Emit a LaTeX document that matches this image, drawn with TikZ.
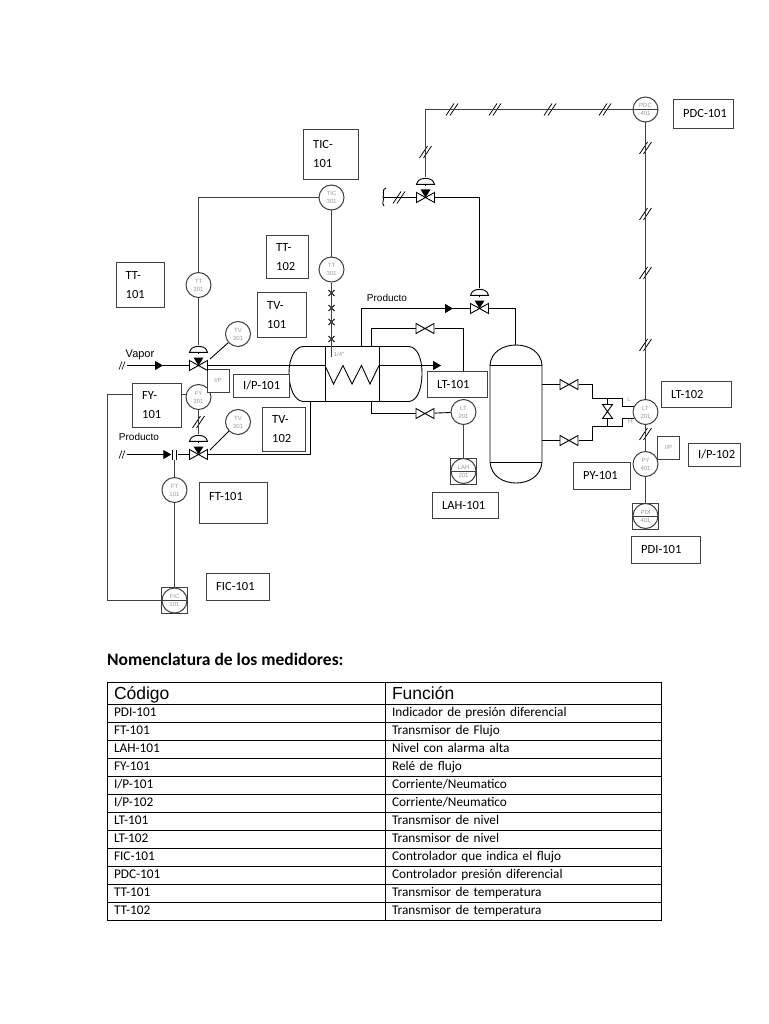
\documentclass[tikz,border=0pt]{standalone}
\usepackage{fontspec}
\setmainfont{Carlito}
\newfontfamily\arialfont{Liberation Sans}
\usetikzlibrary{arrows.meta}
\definecolor{pipegray}{gray}{0.25}
\definecolor{labelgray}{gray}{0.6}
\tikzstyle{instrument} = [
	circle,
	draw = pipegray,
	fill = white,
	line width = 1pt,
	minimum size = 25pt,
	inner sep = 0pt,
	align = center,
	text = labelgray,
	font = \arialfont\fontsize{6}{8}\selectfont,
]
\tikzstyle{panelbox} = [
	rectangle,
	draw = pipegray,
	line width = 1pt,
	minimum size = 26pt,
	inner sep = 0pt,
]
\tikzstyle{splitline} = [
	path picture = {\draw (path picture bounding box.west) -- (path picture bounding box.east);},
]
\tikzstyle{converter} = [
	rectangle,
	draw = pipegray,
	fill = white,
	minimum width = 22pt,
	minimum height = 23pt,
	inner sep = 0pt,
	text = labelgray,
	font = \arialfont\fontsize{6}{7}\selectfont,
]
\tikzstyle{tag} = [
	rectangle,
	draw = pipegray,
	fill = white,
	anchor = north west,
	inner xsep = 10pt,
	inner ysep = 0pt,
	align = left,
	font = \fontsize{12.5}{19}\selectfont,
]
\tikzstyle{valve} = [
	rectangle,
	minimum width = 18.6pt,
	minimum height = 12pt,
	inner sep = 0pt,
	path picture = {\draw[line width = 0.9pt, shift = {(path picture bounding box.center)}] (-9,-5) -- (9,5) -- (9,-5) -- (-9,5) -- cycle;},
]
\tikzstyle{vvalve} = [
	rectangle,
	minimum width = 12pt,
	minimum height = 15pt,
	inner sep = 0pt,
	path picture = {\draw[line width = 0.9pt, shift = {(path picture bounding box.center)}] (-5,-7) -- (5,7) -- (-5,7) -- (5,-7) -- cycle;},
]
\tikzstyle{ctrlvalve} = [
	rectangle,
	minimum width = 18.6pt,
	minimum height = 22pt,
	inner sep = 0pt,
	path picture = {
		\draw[line width = 0.9pt, shift = {(path picture bounding box.center)}] (-9,-5) -- (9,5) -- (9,-5) -- (-9,5) -- cycle;
		\fill[shift = {(path picture bounding box.center)}] (-5,-8) -- (5,-8) -- (0,0) -- cycle;
	},
]
\tikzstyle{actuator} = [
	rectangle,
	minimum width = 20pt,
	minimum height = 8pt,
	inner sep = 0pt,
	path picture = {\draw[line width = 0.9pt, shift = {(path picture bounding box.center)}] (-9,3.4) -- (9,3.4) -- (8,1) .. controls (6,-3.8) and (-6,-3.8) .. (-8,1) -- cycle;},
]
\tikzstyle{dslash} = [
	rectangle,
	minimum size = 15pt,
	inner sep = 0pt,
	path picture = {\draw[line width = 0.8pt, shift = {(path picture bounding box.center)}] (-6,6) -- (2,-6) (-2,6) -- (6,-6);},
]
\tikzstyle{endslash} = [
	rectangle,
	minimum size = 9pt,
	inner sep = 0pt,
	path picture = {\draw[line width = 0.6pt, shift = {(path picture bounding box.center)}] (-3,4) -- (0,-4) (0,4) -- (3,-4);},
]
\tikzstyle{xmark} = [
	rectangle,
	minimum size = 8pt,
	inner sep = 0pt,
	path picture = {\draw[line width = 0.9pt, shift = {(path picture bounding box.center)}] (-3,-3) -- (3,3) (-3,3) -- (3,-3);},
]
\tikzstyle{orifice} = [
	rectangle,
	minimum width = 6pt,
	minimum height = 10pt,
	inner sep = 0pt,
	path picture = {\draw[line width = 0.9pt, shift = {(path picture bounding box.center)}] (-1.8,-5) -- (-1.8,5) (1.8,-5) -- (1.8,5);},
]
\tikzstyle{pipe} = [draw = black, line width = 0.9pt]
\tikzstyle{sigline} = [draw = pipegray, line width = 1pt]
\tikzstyle{flow} = [pipe, -{Triangle[length = 8pt, width = 9pt]}]
\tikzstyle{note} = [
	inner sep = 0pt,
	font = \arialfont\fontsize{10}{12}\selectfont,
]
\tikzstyle{hintmark} = [
	inner sep = 0pt,
	text = labelgray,
	font = \arialfont\fontsize{6}{7}\selectfont,
]
\tikzstyle{hcell} = [
	rectangle,
	draw = black,
	minimum height = 22pt,
	inner xsep = 7pt,
	inner ysep = 0pt,
	text height = 12pt,
	text depth = 0pt,
	align = left,
	font = \arialfont\fontsize{17.5}{19}\selectfont,
]
\tikzstyle{cell} = [
	rectangle,
	draw = black,
	minimum height = 18pt,
	inner xsep = 7pt,
	inner ysep = 0pt,
	text height = 9pt,
	text depth = 3pt,
	align = left,
	font = \fontsize{13.3}{15}\selectfont,
]
\tikzstyle{codecol} = [text width = 264pt]
\tikzstyle{funccol} = [text width = 262pt]

\begin{document}
\begin{tikzpicture}[x = 1pt, y = -1pt]
	\useasboundingbox (0,0) rectangle (768,1024);

	% instruments
	\node[instrument] (tic) at (331.5,197.5) {TIC\\301};
	\node[instrument, below of = tic, node distance = 72pt] (tt102) {TT\\301};
	\node[instrument] (tt101) at (198.5,285) {TT\\301};
	\node[instrument] (tv1) at (238,334) {TV\\301};
	\node[instrument] (tv2) at (238,422) {TV\\301};
	\node[instrument] (fy) at (198.5,397) {FY\\301};
	\node[instrument] (ft) at (174.5,490) {FT\\101};
	\node[panelbox] (ficbox) at (174.5,600.5) {};
	\node[instrument, splitline] (fic) at (174.5,600.5) {FIC\\101};
	\node[instrument] (lt101) at (463.5,412) {LT\\201};
	\node[panelbox, below of = lt101, node distance = 59pt] (lahbox) {};
	\node[instrument, splitline, below of = lt101, node distance = 59pt] (lah) {LAH\\201};
	\node[instrument, splitline] (pdc) at (645.5,109.5) {PDC\\401};
	\node[instrument] (lt102) at (645.5,412) {LT\\201};
	\node[instrument, below of = lt102, node distance = 52pt] (py) {PY\\401};
	\node[panelbox, below of = py, node distance = 52pt] (pdibox) {};
	\node[instrument, splitline, below of = py, node distance = 52pt] (pdi) {PDI\\401};
	\node[converter] (ipa) at (218,380.5) {I/P};
	\node[converter] (ipb) at (668.5,447.5) {I/P};

	% valves
	\node[ctrlvalve] (vapvalve) at (198.5,365.5) {};
	\node[actuator, above of = vapvalve, node distance = 16.5pt] (vapact) {};
	\node[ctrlvalve] (feedvalve) at (198.5,454.5) {};
	\node[actuator, above of = feedvalve, node distance = 16.5pt] (feedact) {};
	\node[ctrlvalve] (prodvalve) at (479.5,308.5) {};
	\node[actuator, above of = prodvalve, node distance = 16.5pt] (prodact) {};
	\node[ctrlvalve] (topvalve) at (425.5,197.5) {};
	\node[actuator, above of = topvalve, node distance = 16.5pt] (topact) {};
	\node[valve] (upvalve) at (425,328.5) {};
	\node[valve] (downvalve) at (425,413.5) {};
	\node[valve] (hivalve) at (569,384.5) {};
	\node[valve] (lowvalve) at (569,440.5) {};
	\node[vvalve] (midvalve) at (607.5,411.5) {};
	\node[orifice] (plate) at (174.5,454.5) {};

	% line marks
	\node[endslash] (vapin) at (122,365.5) {};
	\node[endslash] (feedin) at (122,454.5) {};
	\node[dslash] (sa) at (198.5,422) {};
	\node[dslash] (sb) at (399,197.5) {};
	\node[dslash] (sc) at (425.5,152) {};
	\node[dslash] (sd) at (452,109.5) {};
	\node[dslash] (se) at (495,109.5) {};
	\node[dslash] (sf) at (550,109.5) {};
	\node[dslash] (sg) at (605,109.5) {};
	\node[dslash] (sh) at (645.5,148) {};
	\node[dslash] (si) at (645.5,214) {};
	\node[dslash] (sj) at (645.5,273) {};
	\node[dslash] (sk) at (645.5,345) {};
	\node[dslash] (sl) at (645.5,434) {};
	\node[xmark] (xa) at (331.5,293) {};
	\node[xmark] (xb) at (331.5,308) {};
	\node[xmark] (xc) at (331.5,322) {};
	\node[xmark] (xd) at (331.5,339) {};

	% coordinates
	\coordinate (vapflow) at (163,365.5);
	\coordinate (coilin) at (325,365.5);
	\coordinate (coilout) at (379,365.5);
	\coordinate (exitflow) at (441,365.5);
	\coordinate (prodout) at (361.5,346.5);
	\coordinate (prodflow) at (453,308.5);
	\coordinate (upout) at (371.5,346.5);
	\coordinate (upin) at (463.5,371);
	\coordinate (downout) at (371.5,401.5);
	\coordinate (feedout) at (310.5,401.5);
	\coordinate (vesseltop) at (515.5,345);
	\coordinate (vesselhi) at (542,384.5);
	\coordinate (vessellow) at (542,440.5);
	\coordinate (hia) at (592.5,398.5);
	\coordinate (hib) at (622.5,406.5);
	\coordinate (hiend) at (634,406.5);
	\coordinate (lowa) at (592.5,426.5);
	\coordinate (lowb) at (622.5,418.5);
	\coordinate (lowend) at (634,418.5);
	\coordinate (midtop) at (607.5,398.5);
	\coordinate (midbot) at (607.5,426.5);
	\coordinate (fyout) at (132,394.5);
	\coordinate (fybend) at (107.5,394.5);
	\coordinate (fybox) at (181,394.5);
	\coordinate (fyin) at (186,394.5);
	\coordinate (tvatip) at (210,359);
	\coordinate (tvbtip) at (210,450);
	\coordinate (curl) at (384,197.5);
	\coordinate (tempwell) at (331.5,357);

	% vessels
	\draw[pipe] (303,346.5) -- (409,346.5) .. controls (417,347) and (422,358) .. (422,373) .. controls (422,389) and (417,401) .. (409,401.5) -- (303,401.5) .. controls (295,401) and (289,389) .. (289,373) .. controls (289,358) and (295,347) .. (303,346.5);
	\draw[pipe] (325,346.5) -- (325,401.5);
	\draw[pipe] (379,346.5) -- (379,401.5);
	\draw[pipe] (325,365.5) -- (333.5,384) -- (343,365.5) -- (352,384) -- (361.5,365.5) -- (370,384) -- (379,365.5);
	\draw[pipe] (490,365) .. controls (491,352) and (503,345) .. (516,345) .. controls (529,345) and (541,352) .. (542,365) -- (542,462) .. controls (541,476) and (529,483) .. (516,483) .. controls (503,483) and (491,476) .. (490,462) -- cycle;
	\draw[pipe] (490,365) -- (542,365);
	\draw[pipe] (490,462) -- (542,462);
	\draw[pipe] (386,188) .. controls (381,189) and (385,196) .. (383,197) .. controls (385,198) and (381,204) .. (384,206);

	% lines
	\path[sigline] (tt101) |- (tic);
	\path[sigline] (tic) -- (tt102);
	\path[sigline] (tt102) -- (tempwell);
	\path[sigline] (tt101) -- (vapact);
	\path[pipe] (vapact) -- (vapvalve);
	\path[flow] (vapin) -- (vapflow);
	\path[pipe] (vapflow) -- (vapvalve);
	\path[pipe] (vapvalve) -- (coilin);
	\path[pipe] (tv1) -- (tvatip);
	\path[pipe] (tv2) -- (tvbtip);
	\path[sigline] (fy) -- (feedact);
	\path[pipe] (feedact) -- (feedvalve);
	\path[flow] (feedin) -- (plate.west);
	\path[pipe] (plate) -- (feedvalve);
	\path[pipe] (feedvalve) -| (feedout);
	\path[sigline] (plate) -- (ft);
	\path[sigline] (ft) -- (ficbox);
	\path[sigline] (fyout) -- (fybend) |- (ficbox);
	\path[sigline] (fybox) -- (fyin);
	\path[flow] (coilout) -- (exitflow);
	\path[flow] (prodout) |- (prodflow);
	\path[pipe] (prodflow) -- (prodvalve);
	\path[pipe] (prodvalve) -| (vesseltop);
	\path[pipe] (prodact) -- (prodvalve);
	\path[pipe] (upout) |- (upvalve);
	\path[pipe] (upvalve) -| (upin);
	\path[pipe] (downout) |- (downvalve);
	\path[pipe] (downvalve) -- (lt101);
	\path[sigline] (lt101) -- (lahbox);
	\path[pipe] (vesselhi) -- (hivalve);
	\path[pipe] (hivalve) -| (hia) -| (hib) -- (hiend);
	\path[pipe] (vessellow) -- (lowvalve);
	\path[pipe] (lowvalve) -| (lowa) -| (lowb) -- (lowend);
	\path[pipe] (midtop) -- (midvalve);
	\path[pipe] (midvalve) -- (midbot);
	\path[sigline] (lt102) -- (py);
	\path[sigline] (py) -- (pdibox);
	\path[sigline] (lt102) -- (pdc);
	\path[sigline] (topact) |- (pdc);
	\path[pipe] (topact) -- (topvalve);
	\path[pipe] (curl) -- (topvalve);
	\path[pipe] (topvalve) -| (prodact);

	% tags
	\node[tag, text width = 35pt, minimum height = 50pt] (tictag) at (303,129) {TIC-\\101};
	\node[tag, text width = 22pt, minimum height = 43pt] (tt102tag) at (266,235) {TT-\\102};
	\node[tag, text width = 28.5pt, minimum height = 45pt] (tt101tag) at (115.5,262) {TT-\\101};
	\node[tag, text width = 29pt, minimum height = 45pt] (tv1tag) at (257,292) {TV-\\101};
	\node[tag, text width = 23pt, minimum height = 44pt] (tv2tag) at (262,407) {TV-\\102};
	\node[tag, text width = 29pt, minimum height = 44pt] (fytag) at (132,383) {FY-\\101};
	\node[tag, text width = 36pt, minimum height = 23pt] (ipatag) at (233,374) {\mbox{I/P-101}};
	\node[tag, text width = 48pt, minimum height = 41pt, text depth = 12pt] (fttag) at (199,482) {FT-101};
	\node[tag, text width = 43pt, minimum height = 27pt] (fictag) at (206,573) {FIC-101};
	\node[tag, text width = 40pt, minimum height = 26pt] (lt101tag) at (427,371) {LT-101};
	\node[tag, text width = 46pt, minimum height = 26pt] (lahtag) at (432,492) {\mbox{LAH-101}};
	\node[tag, text width = 40pt, minimum height = 29pt] (pdctag) at (673,99) {\mbox{PDC-101}};
	\node[tag, text width = 50pt, minimum height = 26pt] (lt102tag) at (661,381) {LT-102};
	\node[tag, text width = 32pt, minimum height = 23pt] (ipbtag) at (688,443) {\mbox{I/P-102}};
	\node[tag, text width = 37pt, minimum height = 27pt] (pytag) at (573,462) {PY-101};
	\node[tag, text width = 49pt, minimum height = 27pt] (pditag) at (631,536) {PDI-101};

	% notes
	\node[note, font = \arialfont\fontsize{11}{12}\selectfont] (vapnote) at (140,355) {Vapor};
	\node[note] (feednote) at (139,437) {Producto};
	\node[note] (prodnote) at (387,298) {Producto};
	\node[hintmark] (sizemark) at (339,354) {1/4"};
	\node[hintmark] (lowmark) at (629,399) {L};
	\node[hintmark] (himark) at (630,421) {H};

	% table
	\node[anchor = west, inner sep = 0pt, font = \fontsize{17.5}{19}\selectfont\bfseries] (title) at (107,659) {Nomenclatura de los medidores:};
	\node[hcell, codecol] (codehead) at (246,693) {Código};
	\node[cell, codecol, below of = codehead, node distance = 20pt] (cpdi) {PDI-101};
	\node[cell, codecol, below of = cpdi, node distance = 18pt] (cft) {FT-101};
	\node[cell, codecol, below of = cft, node distance = 18pt] (clah) {LAH-101};
	\node[cell, codecol, below of = clah, node distance = 18pt] (cfy) {FY-101};
	\node[cell, codecol, below of = cfy, node distance = 18pt] (cipa) {I/P-101};
	\node[cell, codecol, below of = cipa, node distance = 18pt] (cipb) {I/P-102};
	\node[cell, codecol, below of = cipb, node distance = 18pt] (clta) {LT-101};
	\node[cell, codecol, below of = clta, node distance = 18pt] (cltb) {LT-102};
	\node[cell, codecol, below of = cltb, node distance = 18pt] (cfic) {FIC-101};
	\node[cell, codecol, below of = cfic, node distance = 18pt] (cpdc) {PDC-101};
	\node[cell, codecol, below of = cpdc, node distance = 18pt] (ctta) {TT-101};
	\node[cell, codecol, below of = ctta, node distance = 18pt] (cttb) {TT-102};
	\node[hcell, funccol, right of = codehead, node distance = 277pt] (funchead) {Función};
	\node[cell, funccol, below of = funchead, node distance = 20pt] (fpdi) {Indicador de presión diferencial};
	\node[cell, funccol, below of = fpdi, node distance = 18pt] (fft) {Transmisor de Flujo};
	\node[cell, funccol, below of = fft, node distance = 18pt] (flah) {Nivel con alarma alta};
	\node[cell, funccol, below of = flah, node distance = 18pt] (ffy) {Relé de flujo};
	\node[cell, funccol, below of = ffy, node distance = 18pt] (fipa) {Corriente/Neumatico};
	\node[cell, funccol, below of = fipa, node distance = 18pt] (fipb) {Corriente/Neumatico};
	\node[cell, funccol, below of = fipb, node distance = 18pt] (flta) {Transmisor de nivel};
	\node[cell, funccol, below of = flta, node distance = 18pt] (fltb) {Transmisor de nivel};
	\node[cell, funccol, below of = fltb, node distance = 18pt] (ffic) {Controlador que indica el flujo};
	\node[cell, funccol, below of = ffic, node distance = 18pt] (fpdc) {Controlador presión diferencial};
	\node[cell, funccol, below of = fpdc, node distance = 18pt] (ftta) {Transmisor de temperatura};
	\node[cell, funccol, below of = ftta, node distance = 18pt] (fttb) {Transmisor de temperatura};
\end{tikzpicture}
\end{document}
